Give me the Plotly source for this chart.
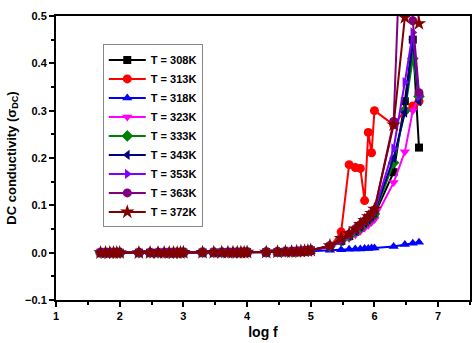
import numpy as np
import plotly.graph_objects as go

# Frequencies (Hz)
freq = [50, 60, 70, 80, 90,
        100, 200, 300, 400, 500, 600, 700, 800, 900,
        1000, 2000, 3000, 4000, 5000, 6000, 7000, 8000, 9000,
        10000, 20000, 30000, 40000, 50000, 60000, 70000, 80000, 90000,
        100000, 200000, 300000, 400000, 500000, 600000, 700000, 800000, 900000,
        1000000, 2000000, 3000000, 4000000, 5000000]

# Low-frequency part (50 Hz .. 90 kHz), all series overlap near zero
low_vals = [0.0, 0.0, 0.0, 0.0, 0.0,
            0.0, 0.0, 0.0, 0.0, 0.0, 0.0, 0.0, 0.0, 0.0,
            0.0005, 0.0005, 0.0005, 0.0005, 0.0005, 0.0005, 0.0005, 0.0005, 0.0005,
            0.001, 0.001, 0.0015, 0.002, 0.002, 0.0025, 0.003, 0.0035, 0.004]

# High-frequency part (100 kHz .. 5 MHz)
s308 = [0.005, 0.013, 0.025, 0.035, 0.044, 0.052, 0.060, 0.066, 0.072, 0.080, 0.17, 0.32, 0.45, 0.222]
s313 = [0.005, 0.012, 0.044, 0.186, 0.180, 0.178, 0.110, 0.254, 0.211, 0.300, 0.27, 0.30, 0.31, 0.32]
s318 = [0.003, 0.005, 0.006, 0.007, 0.008, 0.008, 0.009, 0.009, 0.010, 0.010, 0.013, 0.017, 0.020, 0.022]
s323 = [0.005, 0.012, 0.022, 0.030, 0.038, 0.045, 0.052, 0.058, 0.064, 0.070, 0.148, 0.213, 0.30, 0.33]
s333 = [0.005, 0.013, 0.025, 0.035, 0.045, 0.053, 0.061, 0.068, 0.075, 0.082, 0.19, 0.30, 0.41, 0.33]
s343 = [0.005, 0.013, 0.025, 0.036, 0.046, 0.055, 0.063, 0.070, 0.077, 0.085, 0.20, 0.296, 0.45, 0.32]
s353 = [0.005, 0.014, 0.027, 0.038, 0.048, 0.057, 0.065, 0.072, 0.079, 0.087, 0.22, 0.36, 0.465, 0.33]
s363 = [0.005, 0.014, 0.028, 0.039, 0.050, 0.059, 0.067, 0.075, 0.082, 0.090, 0.277, 0.90, 0.49, 0.338]
s372 = [0.005, 0.015, 0.030, 0.040, 0.050, 0.060, 0.068, 0.076, 0.083, 0.092, 0.27, 0.497, 0.70, 0.484]

labels = ["T = 308K", "T = 313K", "T = 318K", "T = 323K", "T = 333K",
          "T = 343K", "T = 353K", "T = 363K", "T = 372K"]
series = [s308, s313, s318, s323, s333, s343, s353, s363, s372]
colors = ["#000000", "#FF0000", "#0000FF", "#FF00FF", "#008000",
          "#000080", "#8000FF", "#800080", "#800000"]
symbols = ["square", "circle", "triangle-up", "triangle-down", "diamond",
           "triangle-left", "triangle-right", "circle", "star"]
sizes = [8, 9, 9, 9, 9, 9, 9, 9, 11]

logf = np.log10(freq)

fig = go.Figure()
for lab, s, c, sym, sz in zip(labels, series, colors, symbols, sizes):
    y = low_vals + s
    fig.add_trace(go.Scatter(
        x=logf, y=y, mode="lines+markers", name=lab,
        line=dict(color=c, width=2),
        marker=dict(symbol=sym, size=sz, color=c, line=dict(width=0)),
    ))

FAM = "Liberation Sans, Arial, sans-serif"
font_bold = dict(family=FAM, size=11, color="black", weight="bold")

fig.update_layout(
    width=474, height=343,
    margin=dict(l=56, r=2, t=16, b=43),
    paper_bgcolor="white", plot_bgcolor="white",
    showlegend=True,
    legend=dict(
        x=0.113, y=0.9, xanchor="left", yanchor="top",
        bgcolor="white", bordercolor="#888888", borderwidth=1,
        font=dict(family=FAM, size=11, color="black", weight="bold"),
        itemwidth=37, tracegroupgap=0,
    ),
    xaxis=dict(
        range=[1, 7.5], tickmode="linear", tick0=1, dtick=1,
        ticks="outside", ticklen=5, tickwidth=2, tickcolor="black",
        minor=dict(dtick=0.5, ticks="outside", ticklen=3, tickwidth=2, tickcolor="black"),
        showline=True, linecolor="black", linewidth=2, mirror=True,
        showgrid=False, zeroline=False,
        tickfont=font_bold,
        title=dict(text="log f", font=dict(family=FAM, size=14, color="black", weight="bold"), standoff=6),
    ),
    yaxis=dict(
        range=[-0.1, 0.5], tickmode="linear", tick0=-0.1, dtick=0.1, tickformat=".1f",
        ticks="outside", ticklen=5, tickwidth=2, tickcolor="black",
        minor=dict(dtick=0.05, ticks="outside", ticklen=3, tickwidth=2, tickcolor="black"),
        showline=True, linecolor="black", linewidth=2, mirror=True,
        showgrid=False, zeroline=False,
        tickfont=font_bold,
        title=dict(text="DC conductivity (σ<sub>DC</sub>)", font=dict(family=FAM, size=13, color="black", weight="bold"), standoff=6),
    ),
)

fig.write_html("out.html")
